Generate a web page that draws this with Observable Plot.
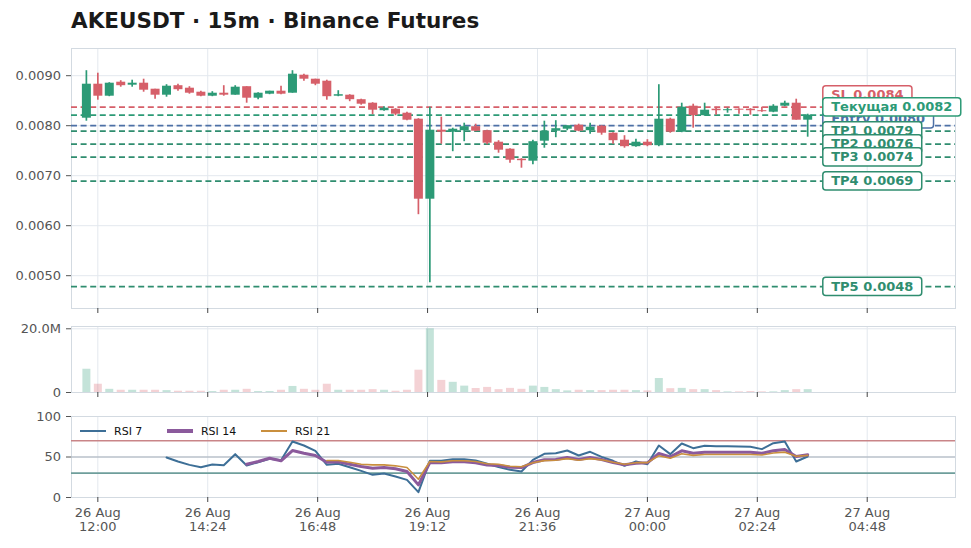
<!DOCTYPE html>
<html><head><meta charset="utf-8">
<script src="https://cdn.jsdelivr.net/npm/d3@7"></script>
<script src="https://cdn.jsdelivr.net/npm/@observablehq/plot@0.6"></script>
<style>
body{margin:0;background:#fff;font-family:"DejaVu Sans",sans-serif;}
#wrap{position:relative;width:971px;height:548px;overflow:hidden;background:#fff;}
#title{position:absolute;left:71px;top:10px;font-weight:bold;font-size:21.5px;line-height:1;color:#1a1a1a;white-space:nowrap;}
.panel{position:absolute;left:0;}
.panel svg{display:block;overflow:visible;}
#legend{position:absolute;left:80px;top:424px;height:14px;display:flex;align-items:center;font-size:11px;color:#111;}
#legend .item{display:flex;align-items:center;margin-right:24.6px;}
#legend .sw{width:26px;margin-right:8px;}
</style></head>
<body>
<div id="wrap">
  <div id="title">AKEUSDT · 15m · Binance Futures</div>
  <div id="price" class="panel" style="top:48px"></div>
  <div id="volume" class="panel" style="top:326px"></div>
  <div id="rsi" class="panel" style="top:416px"></div>
  <div id="legend"></div>
</div>
<script>
// ---------- data ----------
const firstCandle = "2025-08-26T11:45Z";
const opens = [
 0.00815,0.00883,0.00859,0.00887,0.00881,0.00885,0.00873,0.00861,0.00880,0.00875,
 0.00867,0.00859,0.00865,0.00861,0.00878,0.00855,0.00863,0.00869,0.00865,0.00901,
 0.00893,0.00889,0.00859,0.00861,0.00852,0.00845,0.00830,0.00833,0.00825,0.00813,
 0.00653,0.00791,0.00787,0.00790,0.00798,0.00790,0.00767,0.00753,0.00733,0.00729,
 0.00769,0.00789,0.00793,0.00801,0.00790,0.00799,0.00785,0.00771,0.00758,0.00767,
 0.00760,0.00813,0.00787,0.00839,0.00820,0.00833,0.00830,0.00833,0.00833,0.00830,
 0.00827,0.00839,0.00845,0.00811];
const highs = [
 0.00910,0.00905,0.00886,0.00890,0.00891,0.00893,0.00873,0.00882,0.00883,0.00878,
 0.00869,0.00868,0.00880,0.00880,0.00878,0.00866,0.00869,0.00879,0.00910,0.00903,
 0.00893,0.00891,0.00870,0.00862,0.00853,0.00846,0.00838,0.00834,0.00827,0.00814,
 0.00837,0.00817,0.00795,0.00805,0.00803,0.00791,0.00770,0.00754,0.00734,0.00771,
 0.00809,0.00810,0.00799,0.00803,0.00805,0.00800,0.00786,0.00780,0.00773,0.00772,
 0.00882,0.00815,0.00845,0.00843,0.00845,0.00837,0.00835,0.00834,0.00834,0.00837,
 0.00842,0.00849,0.00853,0.00823];
const lows = [
 0.00809,0.00851,0.00858,0.00877,0.00877,0.00867,0.00853,0.00857,0.00869,0.00863,
 0.00858,0.00858,0.00859,0.00861,0.00845,0.00852,0.00862,0.00862,0.00865,0.00889,
 0.00880,0.00851,0.00858,0.00848,0.00841,0.00822,0.00829,0.00820,0.00810,0.00622,
 0.00486,0.00763,0.00748,0.00768,0.00788,0.00762,0.00745,0.00725,0.00715,0.00722,
 0.00755,0.00776,0.00790,0.00788,0.00783,0.00781,0.00763,0.00755,0.00757,0.00758,
 0.00758,0.00785,0.00786,0.00795,0.00819,0.00821,0.00825,0.00823,0.00821,0.00827,
 0.00826,0.00838,0.00811,0.00777];
const closes = [
 0.00883,0.00859,0.00885,0.00880,0.00885,0.00871,0.00861,0.00879,0.00872,0.00865,
 0.00859,0.00865,0.00861,0.00877,0.00855,0.00865,0.00869,0.00863,0.00903,0.00893,
 0.00883,0.00858,0.00862,0.00852,0.00843,0.00831,0.00835,0.00823,0.00811,0.00653,
 0.00791,0.00787,0.00793,0.00798,0.00789,0.00765,0.00751,0.00731,0.00730,0.00768,
 0.00789,0.00794,0.00800,0.00789,0.00797,0.00785,0.00770,0.00758,0.00767,0.00760,
 0.00813,0.00787,0.00837,0.00820,0.00831,0.00830,0.00832,0.00831,0.00830,0.00828,
 0.00839,0.00845,0.00811,0.00821];
const volumesM = [
 7.3,2.6,1.0,0.7,0.7,0.7,0.7,0.6,0.4,0.4,
 0.4,0.3,0.7,0.7,1.0,0.3,0.3,0.7,1.9,1.0,
 0.7,2.6,0.7,0.7,0.7,0.9,0.7,0.4,0.7,7.0,
 20.0,3.8,3.2,2.0,1.25,1.6,0.9,1.3,1.0,2.0,
 1.6,0.9,0.5,0.7,0.6,0.6,0.7,0.7,0.6,0.5,
 4.4,1.2,1.3,0.9,0.9,0.6,0.2,0.2,0.3,0.2,
 0.2,0.6,0.9,0.9];
const rsi7Start = 7;
const rsi7 = [49.4,44.4,40.3,37.4,40.7,39.9,53.5,39.5,43.6,47.8,46.1,69.1,64.2,57.6,
 40.3,41.6,37.4,32.9,28.0,29.6,25.9,21.8,6.6,45.3,45.3,47.3,47.3,45.7,41.6,
 37.5,34.2,32.1,46.5,53.9,54.7,58.0,51.9,56.4,50.2,45.3,39.1,44.4,41.1,
 64.2,53.5,66.7,60.9,63.8,63.4,63.4,63.0,62.6,59.7,67.0,69.1,44.4,50.6];
const rsi14Start = 14;
const rsi14 = [41.1,44.4,48.5,45.3,58.0,54.7,51.9,43.6,44.0,41.1,38.3,36.2,37.0,35.4,32.1,15.6,
 43.2,43.0,44.0,44.0,43.0,40.0,
 39.5,37.4,37.0,43.2,46.5,46.9,49.4,46.9,49.4,46.9,43.2,40.3,42.4,42.8,
 54.3,50.2,57.6,54.7,55.9,55.9,55.9,55.9,55.9,54.7,57.6,59.3,50.6,52.7];
const rsi21Start = 21;
const rsi21 = [45.7,45.7,43.6,41.1,40.3,40.3,39.1,37.0,22.6,44.4,44.0,45.3,45.3,44.4,41.6,
 41.0,38.5,38.0,43.0,45.5,46.0,48.0,46.0,48.0,46.5,43.5,41.0,43.0,43.0,
 51.5,48.5,54.0,52.0,53.0,53.0,53.0,53.0,53.0,52.5,55.0,56.0,51.0,52.0];
// levels in drawing order (last drawn on top)
const levelNames  = ["SL","Entry","TP1","TP2","TP3","TP4","TP5","Текущая"];
const levelValues = [0.00837,0.00800,0.00789,0.00763,0.00737,0.00689,0.00478,0.00821];
const levelKinds  = ["sl","entry","tp","tp","tp","tp","tp","current"];
const xTickTimes = ["2025-08-26T12:00Z","2025-08-26T14:24Z","2025-08-26T16:48Z","2025-08-26T19:12Z",
 "2025-08-26T21:36Z","2025-08-27T00:00Z","2025-08-27T02:24Z","2025-08-27T04:48Z"];
const priceTicks = [0.005,0.006,0.007,0.008,0.009];
const volumeTicks = [0, 20e6];
const rsiTicks = [0,50,100];
const rsiLevels = [70,50,30];
const rsiNames = ["RSI 7","RSI 14","RSI 21"];

// ---------- styles ----------
const GREEN = "#2c9a76", RED = "#d65f69", BLUE = "#4d70a6", TPGREEN = "#2f8d6f";
const kindColor = {sl: RED, entry: BLUE, tp: TPGREEN, current: GREEN};
const rsiColors = ["#3d6f97","#8b5a9c","#c98f3e"];
const rsiWidths = [2, 3, 1.6];
const rsiLevelColors = ["#c98588","#a3adb7","#6e9e9b"];
const rsiLevelWidths = [1.6, 1, 1.8];
const GRID = "#e3e8ee", FRAME = "#d3dae1", TEXT = "#555";

// ---------- build ----------
const t0 = new Date(firstCandle);
const candles = opens.map((o, i) => ({
  date: d3.utcMinute.offset(t0, 15 * i), open: o, high: highs[i], low: lows[i], close: closes[i],
  volume: volumesM[i] * 1e6, up: closes[i] >= o
}));
const xTicks = xTickTimes.map(d => new Date(d));
const xDomain = [new Date("2025-08-26T11:25:30Z"), new Date("2025-08-27T06:43:40Z")];
const common = {
  width: 971, marginLeft: 71, marginRight: 16, marginTop: 0,
  x: {type: "utc", domain: xDomain, label: null},
  color: {type: "identity"},
  style: {fontFamily: "DejaVu Sans", fontSize: "13px", color: TEXT, background: "transparent", overflow: "visible"}
};
const xTicksOnly = Plot.axisX(xTicks, {tickFormat: () => "", tickSize: 5, stroke: "#444", label: null});

// price panel
const yDom = [0.004344, 0.009544];
const gapPx = 12, innerH = 260;
const gap = gapPx * (yDom[1] - yDom[0]) / innerH;
const levels = levelNames.map((n, i) => ({name: n, value: levelValues[i], kind: levelKinds[i],
  label: `${n} ${levelValues[i].toFixed(4)}`}));
// simple label repel: push labels upward so they keep a minimal spacing
const sortedAsc = [...levels].sort((a, b) => a.value - b.value);
let prev = -Infinity;
for (const l of sortedAsc) { l.labelY = Math.max(l.value, prev + gap); prev = l.labelY; }

const price = Plot.plot({
  ...common, height: 268, marginBottom: 8,
  y: {domain: yDom, label: null},
  marks: [
    Plot.gridX(xTicks, {stroke: GRID, strokeOpacity: 1}),
    Plot.gridY(priceTicks, {stroke: GRID, strokeOpacity: 1}),
    Plot.frame({stroke: FRAME}),
    Plot.ruleY(levels, {y: "value", stroke: d => kindColor[d.kind], strokeWidth: 1.7, strokeDasharray: "6,3.6"}),
    Plot.ruleX(candles, {x: "date", y1: "low", y2: "high", stroke: d => d.up ? GREEN : RED, strokeWidth: 1.7}),
    Plot.ruleX(candles, {x: "date", y1: "open", y2: "close", stroke: d => d.up ? GREEN : RED, strokeWidth: 9}),
    Plot.axisY(priceTicks, {tickFormat: d => d.toFixed(4), tickSize: 5, tickPadding: 5.5, stroke: TEXT, label: null}),
    xTicksOnly,
    Plot.text(levels, {y: "labelY", text: "label", frameAnchor: "right",
      textAnchor: "start", dx: -124.3, fill: d => kindColor[d.kind], fontWeight: "bold", fontSize: 13})
  ]
});
document.getElementById("price").append(price);
// label boxes drawn behind each level label
const labelColor = new Map(levels.map(l => [l.label, kindColor[l.kind]]));
price.querySelectorAll("text").forEach(t => {
  const key = t.textContent;
  if (!labelColor.has(key)) return;
  const b = t.getBBox();
  const r = document.createElementNS("http://www.w3.org/2000/svg", "rect");
  r.setAttribute("x", b.x - 8.4);
  r.setAttribute("y", b.y - 1.6);
  r.setAttribute("width", b.width + 16.8);
  r.setAttribute("height", b.height + 3.2);
  r.setAttribute("rx", 3);
  r.setAttribute("fill", "#ffffff");
  r.setAttribute("stroke", labelColor.get(key));
  r.setAttribute("stroke-width", 1.5);
  if (t.getAttribute("transform")) r.setAttribute("transform", t.getAttribute("transform"));
  t.parentNode.insertBefore(r, t);
});

// volume panel
const volume = Plot.plot({
  ...common, height: 74, marginBottom: 8,
  y: {domain: [0, 20.72e6], label: null},
  marks: [
    Plot.gridX(xTicks, {stroke: GRID, strokeOpacity: 1}),
    Plot.gridY(volumeTicks, {stroke: GRID, strokeOpacity: 1}),
    Plot.frame({stroke: FRAME}),
    Plot.ruleX(candles, {x: "date", y1: 0, y2: "volume", stroke: d => d.up ? GREEN : RED, strokeOpacity: 0.28, strokeWidth: 8}),
    Plot.axisY(volumeTicks, {tickFormat: d => d === 0 ? "0" : (d / 1e6).toFixed(1) + "M", tickSize: 5, tickPadding: 5.5, stroke: TEXT, label: null}),
    xTicksOnly
  ]
});
document.getElementById("volume").append(volume);

// RSI panel
const mk = (arr, start) => arr.map((v, i) => ({date: candles[start + i].date, value: v}));
const rsiSeries = [mk(rsi7, rsi7Start), mk(rsi14, rsi14Start), mk(rsi21, rsi21Start)];
const rsi = Plot.plot({
  ...common, height: 133, marginBottom: 52,
  y: {domain: [0, 100], label: null},
  marks: [
    Plot.gridX(xTicks, {stroke: GRID, strokeOpacity: 1}),
    Plot.gridY(rsiTicks, {stroke: GRID, strokeOpacity: 1}),
    Plot.frame({stroke: FRAME}),
    ...rsiLevels.map((lv, i) => Plot.ruleY([lv], {stroke: rsiLevelColors[i], strokeWidth: rsiLevelWidths[i]})),
    ...rsiSeries.map((s, i) => Plot.line(s, {x: "date", y: "value", stroke: rsiColors[i], strokeWidth: rsiWidths[i]})),
    Plot.axisY(rsiTicks, {tickSize: 5, tickPadding: 5.5, stroke: TEXT, label: null}),
    Plot.axisX(xTicks, {tickFormat: d3.utcFormat("%d %b\n%H:%M"), tickSize: 5, tickPadding: 4, stroke: "#444", lineHeight: 1.12, label: null})
  ]
});
document.getElementById("rsi").append(rsi);

// legend
const legend = document.getElementById("legend");
rsiNames.forEach((n, i) => {
  const it = document.createElement("div"); it.className = "item";
  const sw = document.createElement("div"); sw.className = "sw";
  sw.style.height = (rsiWidths[i] + 0.4) + "px"; sw.style.background = rsiColors[i];
  const tx = document.createElement("span"); tx.textContent = n;
  it.append(sw, tx); legend.append(it);
});
</script>
</body></html>
